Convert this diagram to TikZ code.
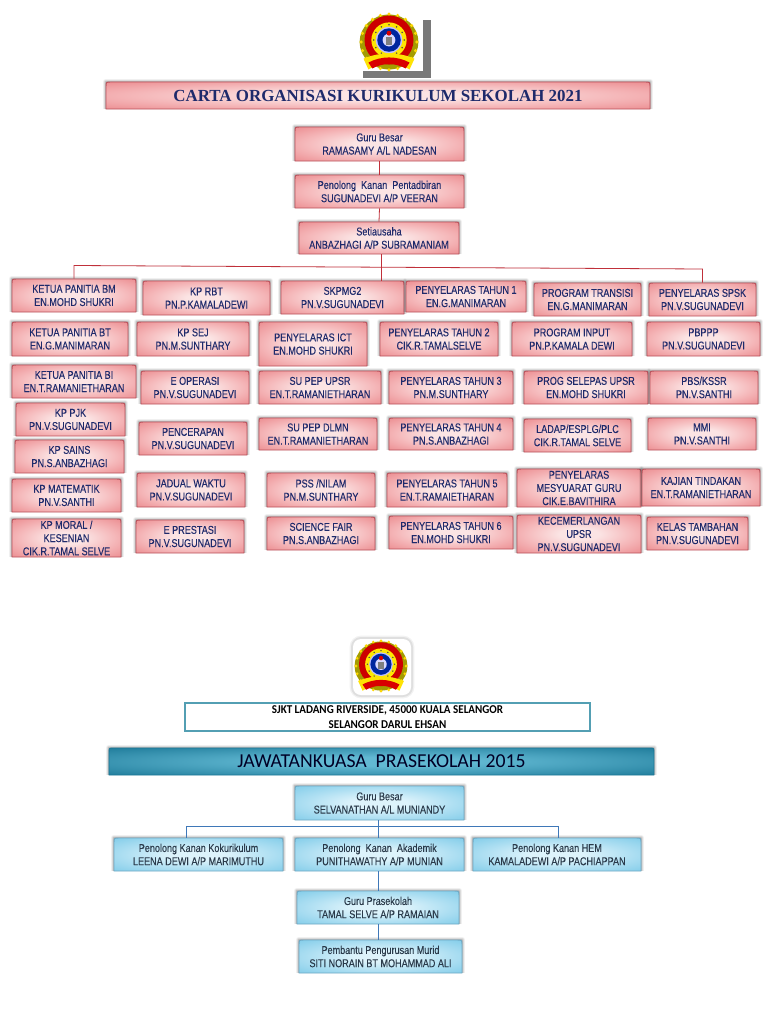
\documentclass[tikz,border=0pt]{standalone}
\usepackage{fontspec}
\setmainfont{Liberation Sans}
\newfontfamily\narf[FakeStretch=0.8,FakeBold=0.12]{Liberation Sans}
\newfontfamily\titlef{Liberation Serif}
\newfontfamily\calf{Carlito}
\newfontfamily\calnf[FakeStretch=0.92]{Carlito}
\definecolor{pkc}{HTML}{FBE4E4}
\definecolor{pkm}{HTML}{F5B8BA}
\definecolor{pke}{HTML}{EA868A}
\definecolor{pkb}{HTML}{B9525B}
\definecolor{blc}{HTML}{DDF3FB}
\definecolor{blm}{HTML}{AEDFF2}
\definecolor{ble}{HTML}{7CCAE8}
\definecolor{blb}{HTML}{6FA9C4}
\definecolor{tlc}{HTML}{62B9D3}
\definecolor{tle}{HTML}{1B7897}
\definecolor{navy}{HTML}{1E2A6B}
\definecolor{dkt}{HTML}{2A3A4A}
\definecolor{redl}{HTML}{C0303A}
\definecolor{bluel}{HTML}{3F78B8}
\pgfdeclareradialshading{pinkbox}{\pgfpoint{0bp}{0bp}}{color(0bp)=(pkc); color(8bp)=(pkc); color(22bp)=(pkm); color(38bp)=(pke); color(80bp)=(pke)}
\pgfdeclareradialshading{bluebox}{\pgfpoint{0bp}{0bp}}{color(0bp)=(blc); color(8bp)=(blc); color(22bp)=(blm); color(38bp)=(ble); color(80bp)=(ble)}
\pgfdeclareradialshading{tealbar}{\pgfpoint{0bp}{0bp}}{color(0bp)=(tlc); color(8bp)=(tlc); color(38bp)=(tle); color(80bp)=(tle)}
\tikzset{
  x=0.75pt,y=-0.75pt,
  boxtext/.style={inner sep=0pt,align=center,text=navy,font=\narf\fontsize{8.5}{9.9}\selectfont},
  btext/.style={boxtext,text=dkt},
  conn/.style={draw=redl,line width=0.6pt},
  bconn/.style={draw=bluel,line width=0.6pt},
}
% #1 shading #2 border #3 text style #4 name #5 x1 #6 y1 #7 x2 #8 y2 #9 text
\newcommand{\anybox}[9]{%
  \pgfmathsetmacro{\xa}{#5}\pgfmathsetmacro{\ya}{#6}\pgfmathsetmacro{\xb}{#7}\pgfmathsetmacro{\yb}{#8}%
  \pgfmathsetmacro{\xar}{\xa+5}\pgfmathsetmacro{\xbr}{\xb-5}\pgfmathsetmacro{\yar}{\ya+5}%
  \foreach \sw/\so in {5pt/0.06,3.4pt/0.09,2pt/0.14}{%
    \draw[black,opacity=\so,line width=\sw,line join=round]
      (\xa,\yb) -- (\xa,\ya) -- (\xb,\ya) -- (\xb,\yb);}%
  \shade[shading=#1,draw=#2,line width=0.7pt]
    (\xa,\yb) -- (\xa,\yar) .. controls (\xa,\ya) .. (\xar,\ya) -- (\xbr,\ya)
    .. controls (\xb,\ya) .. (\xb,\yar) -- (\xb,\yb) -- cycle;%
  \node[#3,minimum width={(\xb-\xa)*0.75pt},minimum height={(\yb-\ya)*0.75pt}] (#4) at ({(\xa+\xb)/2},{(\ya+\yb)/2}) {#9};%
}
\newcommand{\pbox}[6]{\anybox{pinkbox}{pkb}{boxtext}{#1}{#2}{#3}{#4}{#5}{#6}}
\newcommand{\qbox}[6]{\anybox{bluebox}{blb}{btext}{#1}{#2}{#3}{#4}{#5}{#6}}
% school crest, drawn from shapes
\newcommand{\crest}[3]{%
  \begin{scope}[shift={(#1,#2)},scale=#3]
    \fill[olive!80!yellow] (0,0) ellipse [x radius=30,y radius=28];
    \foreach \a in {0,18,...,342}{\fill[yellow!75!orange] (\a:28.5) circle [radius=1.8];}
    \fill[red!80!black] (0,-2) ellipse [x radius=25,y radius=25];
    \fill[yellow!90!orange] (0,-2) circle [radius=18];
    \foreach \a in {0,30,...,330}{\fill[black!70] (0,-2) ++(\a:15.5) circle [radius=0.9];}
    \fill[blue!25!white] (0,-2) circle [radius=13.5];
    \fill[blue!55!black!85!cyan] (0,-2) circle [radius=12];
    \fill[white!85!blue] (0,-2) circle [radius=6.5];
    \fill[red!85!black] (0,-9) circle [radius=2.5];
    \fill[gray] (-3,-5) rectangle (3,3);
    \fill[yellow!85!orange] (-26,17) .. controls (-10,10) and (10,10) .. (26,17)
       -- (21,28) .. controls (8,20) and (-8,20) .. (-21,28) -- cycle;
    \fill[red!85!black] (-21,21) .. controls (-8,14) and (8,14) .. (21,21)
       -- (17,27) .. controls (6,21) and (-6,21) .. (-17,27) -- cycle;
  \end{scope}}
\begin{document}
\begin{tikzpicture}
\useasboundingbox[fill=white] (0,0) rectangle (768,1024);
% ----- first chart: crest
\fill[gray!95!black] (423,20) rectangle (431,78);
\fill[gray!95!black] (363,71) rectangle (431,78);
\crest{389}{42}{0.98}
% title
\anybox{pinkbox}{pkb}{boxtext,text=navy,font=\titlef\bfseries\fontsize{12.7}{14}\selectfont}{title}{106}{82}{650}{109}{CARTA ORGANISASI KURIKULUM SEKOLAH 2021}
% head boxes
\pbox{gb}{295}{127}{464}{161}{Guru Besar\\RAMASAMY A/L NADESAN}
\pbox{pk}{295}{175}{464}{208}{Penolong~ Kanan~ Pentadbiran\\SUGUNADEVI A/P VEERAN}
\pbox{su}{299}{222}{459}{254}{Setiausaha\\ANBAZHAGI A/P SUBRAMANIAM}
% column 1
\pbox{bm}{12}{279}{136}{312}{KETUA PANITIA BM\\EN.MOHD SHUKRI}
\pbox{bt}{12}{322}{128}{356}{KETUA PANITIA BT\\EN.G.MANIMARAN}
\pbox{bi}{12}{365}{136}{398}{KETUA PANITIA BI\\EN.T.RAMANIETHARAN}
\pbox{pjk}{16}{403}{125}{436}{KP PJK\\PN.V.SUGUNADEVI}
\pbox{sains}{15}{440}{124}{473}{KP SAINS\\PN.S.ANBAZHAGI}
\pbox{mat}{12}{479}{121}{512}{KP MATEMATIK\\PN.V.SANTHI}
\pbox{moral}{12}{519}{121}{557}{KP MORAL /\\KESENIAN\\CIK.R.TAMAL SELVE}
% column 2
\pbox{rbt}{143}{281}{270}{315}{KP RBT\\PN.P.KAMALADEWI}
\pbox{sej}{137}{322}{249}{356}{KP SEJ\\PN.M.SUNTHARY}
\pbox{eop}{141}{371}{249}{404}{E OPERASI\\PN.V.SUGUNADEVI}
\pbox{pen}{139}{422}{247}{455}{PENCERAPAN\\PN.V.SUGUNADEVI}
\pbox{jad}{137}{473}{245}{507}{JADUAL WAKTU\\PN.V.SUGUNADEVI}
\pbox{epr}{136}{520}{244}{553}{E PRESTASI\\PN.V.SUGUNADEVI}
% column 3
\pbox{skp}{281}{281}{404}{314}{SKPMG2\\PN.V.SUGUNADEVI}
\pbox{ict}{259}{322}{367}{366}{PENYELARAS ICT\\EN.MOHD SHUKRI}
\pbox{upsr}{259}{371}{381}{404}{SU PEP UPSR\\EN.T.RAMANIETHARAN}
\pbox{dlmn}{259}{418}{377}{450}{SU PEP DLMN\\EN.T.RAMANIETHARAN}
\pbox{pss}{267}{473}{375}{507}{PSS /NILAM\\PN.M.SUNTHARY}
\pbox{sci}{267}{517}{375}{550}{SCIENCE FAIR\\PN.S.ANBAZHAGI}
% column 4
\pbox{ta}{406}{281}{526}{312}{PENYELARAS TAHUN 1\\EN.G.MANIMARAN}
\pbox{tb}{380}{322}{498}{356}{PENYELARAS TAHUN 2\\CIK.R.TAMALSELVE}
\pbox{tc}{389}{371}{513}{404}{PENYELARAS TAHUN 3\\PN.M.SUNTHARY}
\pbox{td}{389}{418}{513}{450}{PENYELARAS TAHUN 4\\PN.S.ANBAZHAGI}
\pbox{te}{387}{473}{507}{507}{PENYELARAS TAHUN 5\\EN.T.RAMAIETHARAN}
\pbox{tf}{389}{516}{513}{549}{PENYELARAS TAHUN 6\\EN.MOHD SHUKRI}
% column 5
\pbox{tra}{534}{283}{641}{316}{PROGRAM TRANSISI\\EN.G.MANIMARAN}
\pbox{inp}{512}{322}{632}{356}{PROGRAM INPUT\\PN.P.KAMALA DEWI}
\pbox{sel}{524}{371}{648}{404}{PROG SELEPAS UPSR\\EN.MOHD SHUKRI}
\pbox{lad}{524}{419}{631}{452}{LADAP/ESPLG/PLC\\CIK.R.TAMAL SELVE}
\pbox{mes}{517}{469}{641}{507}{PENYELARAS\\MESYUARAT GURU\\CIK.E.BAVITHIRA}
\pbox{kec}{517}{515}{641}{553}{KECEMERLANGAN\\UPSR\\PN.V.SUGUNADEVI}
% column 6
\pbox{spsk}{649}{283}{756}{316}{PENYELARAS SPSK\\PN.V.SUGUNADEVI}
\pbox{pbp}{647}{322}{760}{356}{PBPPP\\PN.V.SUGUNADEVI}
\pbox{pbs}{650}{371}{758}{404}{PBS/KSSR\\PN.V.SANTHI}
\pbox{mmi}{648}{418}{756}{450}{MMI\\PN.V.SANTHI}
\pbox{kaj}{642}{469}{760}{506}{KAJIAN TINDAKAN\\EN.T.RAMANIETHARAN}
\pbox{kel}{647}{517}{748}{550}{KELAS TAMBAHAN\\PN.V.SUGUNADEVI}
% connectors
\draw[conn] (gb.south) -- (pk.north);
\draw[conn] (pk.south) -- (su.north);
\coordinate (hl) at (74,265.5);
\coordinate (hr) at (702.5,269);
\draw[conn] (bm.north) -- (hl) -- (hr) -- (spsk.north);
\draw[conn] ([xshift=1.5pt]su.south) -- ([xshift=1.5pt]su.south |- skp.north);
% ----- second chart: crest card
\foreach \sw/\so in {5pt/0.05,3pt/0.08}{\draw[black,opacity=\so,line width=\sw,rounded corners=6pt] (353,639) rectangle (411,695);}
\fill[white,rounded corners=6pt] (353,639) rectangle (411,695);
\crest{381}{666}{0.88}
% address box
\node[draw=blb!75!teal,fill=white,line width=1.3pt,minimum width=303.75pt,minimum height=21pt,inner sep=0pt,align=center,font=\calnf\bfseries\fontsize{9}{11.2}\selectfont,text=black] (addr) at (387.5,717) {SJKT LADANG RIVERSIDE, 45000 KUALA SELANGOR\\SELANGOR DARUL EHSAN};
% banner
\anybox{tealbar}{tle}{boxtext,text=black!85!blue,font=\calf\fontsize{14.8}{16}\selectfont}{ban}{109}{748}{654}{775}{JAWATANKUASA~ PRASEKOLAH 2015}
% boxes
\qbox{qgb}{295}{786}{464}{820}{Guru Besar\\SELVANATHAN A/L MUNIANDY}
\qbox{qko}{114}{838}{283}{871}{Penolong Kanan Kokurikulum\\LEENA DEWI A/P MARIMUTHU}
\qbox{qak}{295}{838}{464}{871}{Penolong~ Kanan~ Akademik\\PUNITHAWATHY A/P MUNIAN}
\qbox{qhe}{473}{838}{641}{871}{Penolong Kanan HEM\\KAMALADEWI A/P PACHIAPPAN}
\qbox{qgu}{297}{891}{459}{924}{Guru Prasekolah\\TAMAL SELVE A/P RAMAIAN}
\qbox{qpe}{299}{940}{462}{973}{Pembantu Pengurusan Murid\\SITI NORAIN BT MOHAMMAD ALI}
% connectors
\draw[bconn] ([xshift=-0.75pt]qgb.south) -- ([xshift=-0.75pt]qak.north);
\coordinate (bl) at (186,826);
\coordinate (br) at (558,826);
\draw[bconn] (bl |- qko.north) -- (bl) -- (br) -- (br |- qhe.north);
\draw[bconn] ([xshift=-0.75pt]qak.south) -- ([xshift=-0.75pt]qak.south |- qgu.north);
\draw[bconn] ([xshift=-0.75pt]qak.south |- qgu.south) -- ([xshift=-0.75pt]qak.south |- qpe.north);
\end{tikzpicture}
\end{document}
